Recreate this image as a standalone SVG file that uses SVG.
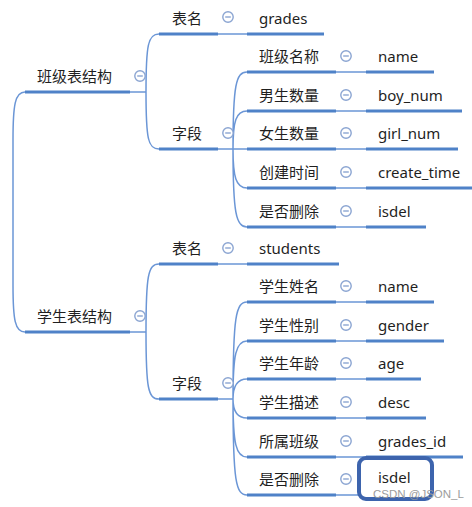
<svg xmlns="http://www.w3.org/2000/svg" xmlns:xlink="http://www.w3.org/1999/xlink" width="472" height="507" viewBox="0 0 472 507">
<style>
.t{font-family:"Noto Sans","Noto Sans CJK SC",sans-serif;font-size:15px;fill:#1f1f1f}
.u{stroke:#4f82c8;stroke-width:3;fill:none}
.c{stroke:#6b96d6;stroke-width:1.5;fill:none}
.wm{font-family:"Liberation Sans",sans-serif;font-size:11.5px;fill:#9c9c9c}
</style>
<defs>
<g id="fold">
<circle cx="0" cy="0" r="5.2" fill="#fff" stroke="#8ba5d2" stroke-width="1.4"/>
<line x1="-2.8" y1="0" x2="2.8" y2="0" stroke="#8ba5d2" stroke-width="1.4"/>
</g>
</defs>
<rect width="472" height="507" fill="#fff"/>
<g id="connectors">
<path class="c" d="M25,92 C15,92 13,105 13,140 L13,285 C13,320 15,332 25,332"/>
<path class="c" d="M130,92 H146 M146,92 C146,45 148,34 159,34 M146,92 C146,139 148,149 159,149"/>
<path class="c" d="M218,34 H247 M218,149 H247"/>
<path class="c" d="M233,149 C233,85 236,72 247,72 M233,149 C233,121 236,111 247,111 M233,149 C233,177 236,188 247,188 M233,149 C233,213 236,227 247,227"/>
<path class="c" d="M336,72 H366 M336,111 H366 M336,149 H366 M336,188 H366 M336,227 H366"/>
<path class="c" d="M130,332 H146 M146,332 C146,276 148,264 159,264 M146,332 C146,388 148,399 159,399"/>
<path class="c" d="M218,264 H247 M218,399 H233"/>
<path class="c" d="M233,399 C233,316 236,302 247,302 M233,399 C233,354 236,341 247,341 M233,399 C233,388 236,379 247,379 M233,399 C233,410 236,418 247,418 M233,399 C233,444 236,457 247,457 M233,399 C233,482 236,495 247,495"/>
<path class="c" d="M336,302 H366 M336,341 H366 M336,379 H366 M336,418 H366 M336,457 H366 M336,495 H358"/>
</g>
<g id="n-grades-root"><line class="u" x1="25" y1="92" x2="130" y2="92"/><text class="t" x="37" y="82">班级表结构</text><use xlink:href="#fold" x="140" y="76"/></g>
<g id="n-g-biaoming"><line class="u" x1="159" y1="34" x2="218" y2="34"/><text class="t" x="172" y="24">表名</text><use xlink:href="#fold" x="228" y="17"/></g>
<g id="n-g-grades"><line class="u" x1="247" y1="34" x2="324" y2="34"/><text class="t" x="259" y="24">grades</text></g>
<g id="n-g-ziduan"><line class="u" x1="159" y1="149" x2="218" y2="149"/><text class="t" x="172" y="139">字段</text><use xlink:href="#fold" x="228" y="133"/></g>
<g id="n-g-r1"><line class="u" x1="247" y1="72" x2="336" y2="72"/><text class="t" x="259" y="62">班级名称</text><use xlink:href="#fold" x="346" y="56"/></g>
<g id="n-g-v1"><line class="u" x1="366" y1="72" x2="434" y2="72"/><text class="t" x="378" y="62">name</text></g>
<g id="n-g-r2"><line class="u" x1="247" y1="111" x2="336" y2="111"/><text class="t" x="259" y="101">男生数量</text><use xlink:href="#fold" x="346" y="95"/></g>
<g id="n-g-v2"><line class="u" x1="366" y1="111" x2="462" y2="111"/><text class="t" x="378" y="101">boy_num</text></g>
<g id="n-g-r3"><line class="u" x1="247" y1="149" x2="336" y2="149"/><text class="t" x="259" y="139">女生数量</text><use xlink:href="#fold" x="346" y="133"/></g>
<g id="n-g-v3"><line class="u" x1="366" y1="149" x2="458" y2="149"/><text class="t" x="378" y="139">girl_num</text></g>
<g id="n-g-r4"><line class="u" x1="247" y1="188" x2="336" y2="188"/><text class="t" x="259" y="178">创建时间</text><use xlink:href="#fold" x="346" y="172"/></g>
<g id="n-g-v4"><line class="u" x1="366" y1="188" x2="472" y2="188"/><text class="t" x="378" y="178">create_time</text></g>
<g id="n-g-r5"><line class="u" x1="247" y1="227" x2="336" y2="227"/><text class="t" x="259" y="217">是否删除</text><use xlink:href="#fold" x="346" y="211"/></g>
<g id="n-g-v5"><line class="u" x1="366" y1="227" x2="426" y2="227"/><text class="t" x="378" y="217">isdel</text></g>
<g id="n-students-root"><line class="u" x1="25" y1="332" x2="130" y2="332"/><text class="t" x="37" y="322">学生表结构</text><use xlink:href="#fold" x="140" y="316"/></g>
<g id="n-s-biaoming"><line class="u" x1="159" y1="264" x2="218" y2="264"/><text class="t" x="172" y="254">表名</text><use xlink:href="#fold" x="228" y="248"/></g>
<g id="n-s-students"><line class="u" x1="247" y1="264" x2="339" y2="264"/><text class="t" x="259" y="254">students</text></g>
<g id="n-s-ziduan"><line class="u" x1="159" y1="399" x2="218" y2="399"/><text class="t" x="172" y="389">字段</text><use xlink:href="#fold" x="228" y="383"/></g>
<g id="n-s-r1"><line class="u" x1="247" y1="302" x2="336" y2="302"/><text class="t" x="259" y="292">学生姓名</text><use xlink:href="#fold" x="346" y="286"/></g>
<g id="n-s-v1"><line class="u" x1="366" y1="302" x2="434" y2="302"/><text class="t" x="378" y="292">name</text></g>
<g id="n-s-r2"><line class="u" x1="247" y1="341" x2="336" y2="341"/><text class="t" x="259" y="331">学生性别</text><use xlink:href="#fold" x="346" y="325"/></g>
<g id="n-s-v2"><line class="u" x1="366" y1="341" x2="444" y2="341"/><text class="t" x="378" y="331">gender</text></g>
<g id="n-s-r3"><line class="u" x1="247" y1="379" x2="336" y2="379"/><text class="t" x="259" y="369">学生年龄</text><use xlink:href="#fold" x="346" y="363"/></g>
<g id="n-s-v3"><line class="u" x1="366" y1="379" x2="421" y2="379"/><text class="t" x="378" y="369">age</text></g>
<g id="n-s-r4"><line class="u" x1="247" y1="418" x2="336" y2="418"/><text class="t" x="259" y="408">学生描述</text><use xlink:href="#fold" x="346" y="402"/></g>
<g id="n-s-v4"><line class="u" x1="366" y1="418" x2="426" y2="418"/><text class="t" x="378" y="408">desc</text></g>
<g id="n-s-r5"><line class="u" x1="247" y1="457" x2="336" y2="457"/><text class="t" x="259" y="447">所属班级</text><use xlink:href="#fold" x="346" y="441"/></g>
<g id="n-s-v5"><line class="u" x1="366" y1="457" x2="463" y2="457"/><text class="t" x="378" y="447">grades_id</text></g>
<g id="n-s-r6"><line class="u" x1="247" y1="495" x2="336" y2="495"/><text class="t" x="259" y="485">是否删除</text><use xlink:href="#fold" x="346" y="479"/></g>
<g id="n-s-v6"><rect x="359" y="458" width="73" height="41" rx="7" fill="#fff" stroke="#3d64ad" stroke-width="4"/><text class="t" x="378" y="483">isdel</text></g>
<text class="wm" x="373" y="498">CSDN @JSON_L</text>
</svg>
